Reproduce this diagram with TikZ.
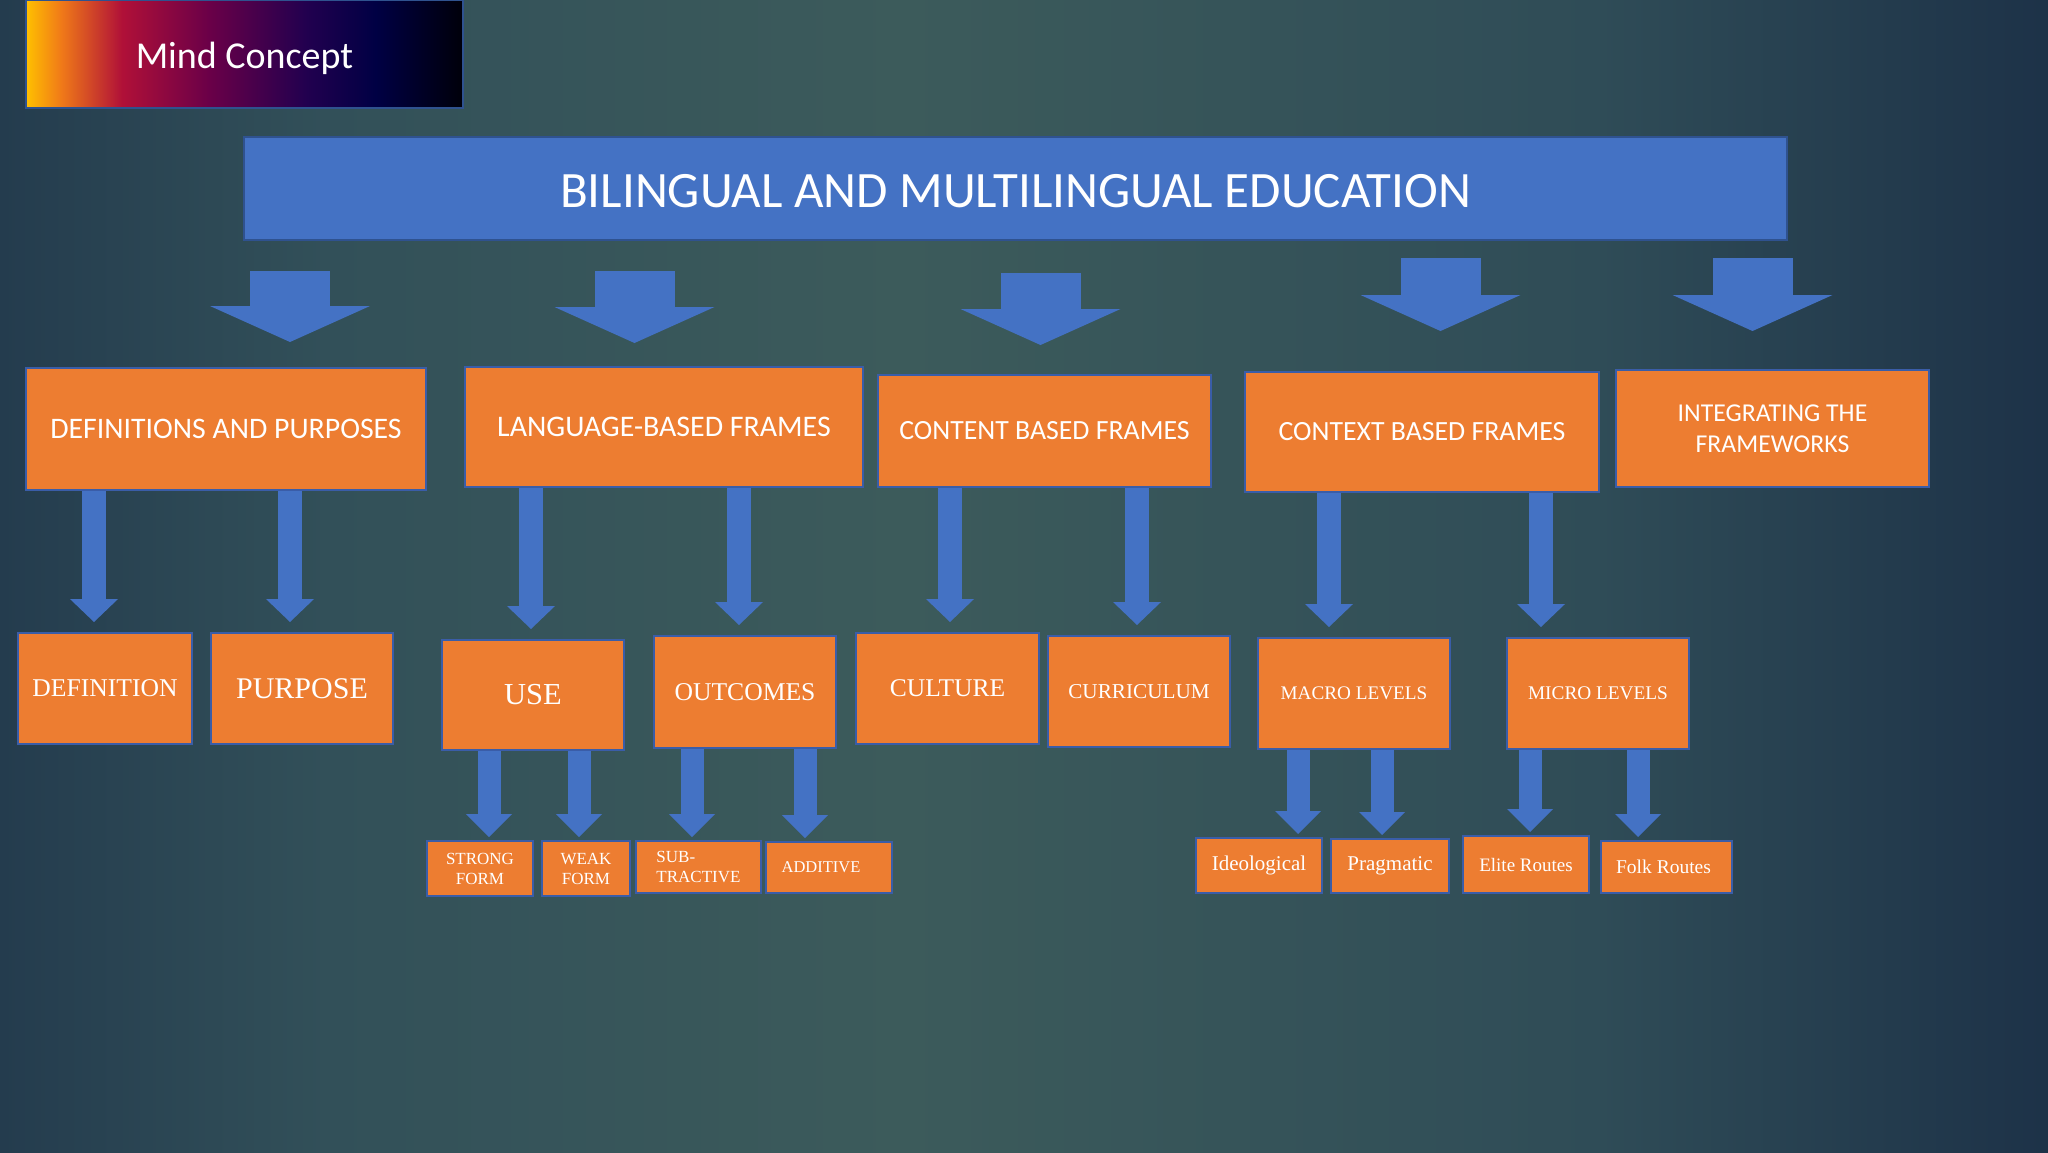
\documentclass[tikz,border=0pt]{standalone}
\usepackage{fontspec}
\setmainfont{Liberation Serif}
\newfontfamily\carlito{Carlito}
\usepackage{xcolor}
\usetikzlibrary{
    shapes,
    positioning,
    arrows.meta,
    calc
}
\definecolor{boxorange}{HTML}{ED7D31}
\definecolor{boxline}{HTML}{3A5DA8}
\definecolor{arrowblue}{HTML}{4472C4}
\definecolor{titleline}{HTML}{2F528F}
\definecolor{boardleft}{RGB}{36,60,78}
\definecolor{boardmidl}{RGB}{50,80,89}
\definecolor{boardmid}{RGB}{60,91,91}
\definecolor{boardmidr}{RGB}{47,76,87}
\definecolor{boardright}{RGB}{29,50,72}
\definecolor{mcyellow}{HTML}{FFC000}
\definecolor{mcorange}{HTML}{F07A18}
\definecolor{mccrimson}{HTML}{B01038}
\definecolor{mcplum}{HTML}{6A0048}
\definecolor{mcpurple}{HTML}{22004F}
\definecolor{mcnavy}{HTML}{000044}
\definecolor{mcblack}{HTML}{00000A}
\pgfdeclarehorizontalshading{board}{100bp}{
  color(0bp)=(boardleft); color(25bp)=(boardleft);
  color(33bp)=(boardmidl); color(47bp)=(boardmid);
  color(64bp)=(boardmidr); color(75bp)=(boardright);
  color(100bp)=(boardright)}
\pgfdeclarehorizontalshading{mindgrad}{100bp}{
  color(0bp)=(mcyellow); color(25bp)=(mcyellow);
  color(29bp)=(mcorange); color(36bp)=(mccrimson);
  color(46bp)=(mcplum); color(57bp)=(mcpurple);
  color(65bp)=(mcnavy); color(75bp)=(mcblack);
  color(100bp)=(mcblack)}
\tikzset{
  box/.style = {
      draw=boxline,
      line width=2pt,
      fill=boxorange,
      text=white,
      inner sep=0pt,
      align=center
  },
  frame/.style = {
      box,
      font=\carlito
  },
  mind/.style = {
      draw=titleline,
      line width=2pt,
      shading=mindgrad,
      text=white,
      inner sep=0pt,
      font=\carlito\fontsize{38}{42}\selectfont
  },
  titlebar/.style = {
      draw=titleline,
      line width=2pt,
      fill=arrowblue,
      text=white,
      inner sep=0pt,
      font=\carlito\fontsize{51}{56}\selectfont
  },
  bigarrow/.style = {
      draw=arrowblue,
      line width=80pt,
      -{Triangle[width=160pt, length=36pt, line width=0pt]}
  },
  smallarrow/.style = {
      draw=arrowblue,
      line width=24pt,
      shorten >=10pt,
      -{Triangle[width=48pt, length=23pt, line width=0pt]}
  },
  tinyarrow/.style = {
      draw=arrowblue,
      line width=23pt,
      shorten >=3pt,
      -{Triangle[width=46pt, length=23pt, line width=0pt]}
  }
}

\begin{document}
\begin{tikzpicture}[x=1pt, y=-1pt]
    % Board
    \useasboundingbox (0,0) rectangle (2048,1152);
    \shade[shading=board] (0,0) rectangle (2048,1152);
    % Header
    \node[mind, minimum width=437pt, minimum height=108pt] (mind) at (244.5,54)
        {\raisebox{-4pt}[\height][\depth]{Mind Concept}};
    \node[titlebar, minimum width=1543pt, minimum height=103pt] (title) at (1015.5,188.5)
        {\raisebox{-3pt}[\height][\depth]{BILINGUAL AND MULTILINGUAL EDUCATION}};
    % Frames
    \node[frame, minimum width=400pt, minimum height=122pt, font=\carlito\fontsize{29.8}{33}\selectfont]
        (defs) at (226,429) {DEFINITIONS AND PURPOSES};
    \node[frame, minimum width=398pt, minimum height=120pt, font=\carlito\fontsize{29.9}{33}\selectfont]
        (lang) at (664,427) {LANGUAGE-BASED FRAMES};
    \node[frame, minimum width=333pt, minimum height=112pt, font=\carlito\fontsize{27.8}{31}\selectfont]
        (content) at (1044.5,431) {CONTENT BASED FRAMES};
    \node[frame, minimum width=354pt, minimum height=120pt, font=\carlito\fontsize{27.8}{31}\selectfont]
        (context) at (1422,432) {CONTEXT BASED FRAMES};
    \node[frame, minimum width=313pt, minimum height=117pt, font=\carlito\fontsize{25.7}{31}\selectfont]
        (integr) at (1772.5,428.5) {INTEGRATING THE\\FRAMEWORKS};
    % Sub frames
    \node[box, minimum width=174pt, minimum height=111pt, font=\fontsize{25.6}{30}\selectfont]
        (definition) at (105,688.5) {DEFINITION};
    \node[box, minimum width=182pt, minimum height=111pt, font=\fontsize{30}{34}\selectfont]
        (purpose) at (302,688.5) {PURPOSE};
    \node[box, minimum width=182pt, minimum height=110pt, font=\fontsize{30.5}{34}\selectfont]
        (use) at (533,695) {USE};
    \node[box, minimum width=182pt, minimum height=112pt, font=\fontsize{25.6}{30}\selectfont]
        (outcomes) at (745,692) {OUTCOMES};
    \node[box, minimum width=183pt, minimum height=111pt, font=\fontsize{25.5}{30}\selectfont]
        (culture) at (947.5,688.5) {CULTURE};
    \node[box, minimum width=182pt, minimum height=111pt, font=\fontsize{21.2}{26}\selectfont]
        (curriculum) at (1139,691.5) {CURRICULUM};
    \node[box, minimum width=192pt, minimum height=111pt, font=\fontsize{19.2}{24}\selectfont]
        (macro) at (1354,693.5) {MACRO LEVELS};
    \node[box, minimum width=182pt, minimum height=111pt, font=\fontsize{19.3}{24}\selectfont]
        (micro) at (1598,693.5) {MICRO LEVELS};
    % Leaves
    \node[box, minimum width=106pt, minimum height=55pt, font=\fontsize{17}{20}\selectfont]
        (strong) at (480,868.5) {STRONG\\FORM};
    \node[box, minimum width=88pt, minimum height=55pt, font=\fontsize{17}{20}\selectfont]
        (weak) at (586,868.5) {WEAK\\FORM};
    \node[box, minimum width=125pt, minimum height=52pt, align=left, font=\fontsize{17}{20}\selectfont]
        (subtr) at (698.5,867) {SUB-\\TRACTIVE\hspace{10pt}};
    \node[box, minimum width=126pt, minimum height=51pt, font=\fontsize{16.5}{20}\selectfont]
        (additive) at (829,867.5) {ADDITIVE\hspace{16pt}};
    \node[box, minimum width=126pt, minimum height=55pt, font=\fontsize{21}{24}\selectfont]
        (ideo) at (1259,865.5) {Ideological};
    \node[box, minimum width=118pt, minimum height=54pt, font=\fontsize{21}{24}\selectfont]
        (prag) at (1390,866) {Pragmatic};
    \node[box, minimum width=126pt, minimum height=57pt, font=\fontsize{19}{22}\selectfont]
        (elite) at (1526,864.5) {Elite Routes};
    \node[box, minimum width=131pt, minimum height=52pt, font=\fontsize{19.5}{22}\selectfont]
        (folk) at (1666.5,867) {Folk Routes\hspace{6pt}};
    % Edges
    \draw[bigarrow, shorten <=30pt, shorten >=25pt] (title.south -| 290,0) -- (defs.north -| 290,0);
    \draw[bigarrow, shorten <=30pt, shorten >=23pt] (title.south -| 634.5,0) -- (lang.north -| 634.5,0);
    \draw[bigarrow, shorten <=32pt, shorten >=29pt] (title.south -| 1040.5,0) -- (content.north -| 1040.5,0);
    \draw[bigarrow, shorten <=17pt, shorten >=40pt] (title.south -| 1440.5,0) -- (context.north -| 1440.5,0);
    \draw[bigarrow, shorten <=17pt, shorten >=38pt] (title.south -| 1752.5,0) -- (integr.north -| 1752.5,0);
    \draw[smallarrow] (defs.south -| 94,0) -- (definition.north -| 94,0);
    \draw[smallarrow] (defs.south -| 290,0) -- (purpose.north -| 290,0);
    \draw[smallarrow] (lang.south -| 531,0) -- (use.north -| 531,0);
    \draw[smallarrow] (lang.south -| 739,0) -- (outcomes.north -| 739,0);
    \draw[smallarrow] (content.south -| 950,0) -- (culture.north -| 950,0);
    \draw[smallarrow] (content.south -| 1137,0) -- (curriculum.north -| 1137,0);
    \draw[smallarrow] (context.south -| 1329,0) -- (macro.north -| 1329,0);
    \draw[smallarrow] (context.south -| 1541,0) -- (micro.north -| 1541,0);
    \draw[tinyarrow] (use.south -| 489,0) -- (strong.north -| 489,0);
    \draw[tinyarrow] (use.south -| 579,0) -- (weak.north -| 579,0);
    \draw[tinyarrow] (outcomes.south -| 692,0) -- (subtr.north -| 692,0);
    \draw[tinyarrow] (outcomes.south -| 805,0) -- (additive.north -| 805,0);
    \draw[tinyarrow] (macro.south -| 1298,0) -- (ideo.north -| 1298,0);
    \draw[tinyarrow] (macro.south -| 1382,0) -- (prag.north -| 1382,0);
    \draw[tinyarrow] (micro.south -| 1530,0) -- (elite.north -| 1530,0);
    \draw[tinyarrow] (micro.south -| 1638,0) -- (folk.north -| 1638,0);
\end{tikzpicture}
\end{document}
